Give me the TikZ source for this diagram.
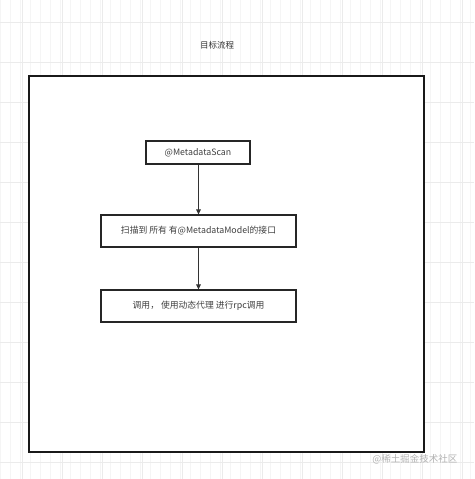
\documentclass[tikz,border=0pt]{standalone}
\usepackage{fontspec}
\setmainfont{Noto Sans CJK SC}
\usetikzlibrary{arrows.meta}
\begin{document}
\begin{tikzpicture}[x=1pt,y=-1pt,
  flowbox/.style={draw=black!85,line width=1.1pt,fill=white,font=\fontsize{8.8}{10}\selectfont,text=black!75},
  flowarrow/.style={draw=black!80,line width=1pt,-{Triangle[length=5pt,width=4.5pt]}}]
\useasboundingbox (0,0) rectangle (474,479);
\fill[white] (0,0) rectangle (474,479);
\draw[black!4,line width=0.4pt,step=10] (0,0) grid (474,479);
\foreach \x in {22,62,...,462} \draw[black!8,line width=0.5pt] (\x,0) -- (\x,479);
\foreach \y in {22,62,...,462} \draw[black!8,line width=0.5pt] (0,\y) -- (474,\y);
\node[font=\fontsize{8.5}{10}\selectfont,text=black!80] (title) at (217,45) {目标流程};
\node[draw=black!90,line width=1.2pt,fill=white,minimum width=395pt,minimum height=376pt,inner sep=0pt] (frame) at (226.5,264) {};
\node[flowbox,minimum width=104pt,minimum height=23pt,inner sep=0pt] (scan) at (198,152.5) {@MetadataScan};
\node[flowbox,minimum width=195pt,minimum height=32pt,inner sep=0pt] (find) at (198.5,231) {扫描到 所有 有@MetadataModel的接口};
\node[flowbox,minimum width=195pt,minimum height=32pt,inner sep=0pt] (call) at (198.5,306) {调用， 使用动态代理 进行rpc调用};
\draw[flowarrow] (scan.south -| find.north) -- (find.north);
\draw[flowarrow] (find) -- (call);
\node[font=\fontsize{9.5}{11}\selectfont,text=black!30,anchor=east] (mark) at (461,459) {@稀土掘金技术社区};
\end{tikzpicture}
\end{document}
